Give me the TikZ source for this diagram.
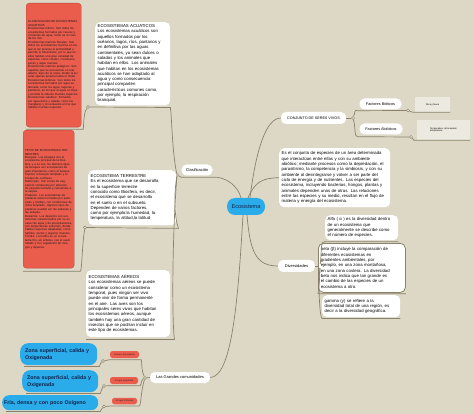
\documentclass[tikz,border=0pt]{standalone}
\usepackage{fontspec}
\setmainfont{Liberation Sans}
\definecolor{bgc}{RGB}{221,216,198}
\definecolor{linec}{RGB}{138,130,108}
\definecolor{redb}{RGB}{234,92,76}
\definecolor{blueb}{RGB}{42,172,234}
\definecolor{navy}{RGB}{16,36,78}
\begin{document}
\begin{tikzpicture}[x=1pt,y=-1pt,
  wbox/.style={fill=white, rounded corners=5pt, inner sep=2.5pt, align=left, anchor=north west, text=black, font=\fontsize{4.3}{5.3}\selectfont},
  lbl/.style={fill=white, rounded corners=5pt, inner sep=0pt, align=center, text=black, font=\fontsize{4}{4.8}\selectfont},
  rbox/.style={fill=redb, draw=redb!80!black, line width=0.3pt, rounded corners=3pt, inner sep=2pt, align=left, anchor=north west, text=black!90, font=\fontsize{2.9}{3.45}\selectfont},
  srbox/.style={fill=redb, rounded corners=2.5pt, inner sep=0pt, text=black!85, font=\fontsize{2.3}{2.6}\selectfont},
  bbox/.style={fill=blueb, rounded corners=8pt, inner sep=2pt, align=left, anchor=north west, text=navy, font=\bfseries\fontsize{5.3}{7}\selectfont},
  fbox/.style={fill=bgc!55!white, inner sep=1pt, align=left, text=black, font=\fontsize{2.3}{2.7}\selectfont},
  conn/.style={draw=linec, line width=0.7pt},
  dot/.style={circle, draw=linec, fill=bgc!40!white, line width=0.5pt, inner sep=0pt, minimum size=3.2pt}]
\fill[bgc] (0,0) rectangle (474,414);
\useasboundingbox (0,0) rectangle (474,414);

% ---------- central ----------
\node[fill=blueb, rounded corners=8pt, minimum width=38pt, minimum height=17pt, inner sep=0pt, text=navy, font=\fontsize{5.6}{6}\selectfont] (eco) at (246,206.5) {Ecosistema};

% ---------- left branch ----------
\node[lbl, minimum width=31pt, minimum height=11pt] (clas) at (197,170) {Clasificación};
\node[dot] (clasdot) at (177,175) {};

\node[wbox, text width=70pt, minimum height=83pt] (acu) at (95,22) {ECOSISTEMAS ACUATICOS\\
Los ecosistemas acuáticos son\\
aquellos formados por los\\
océanos, lagos, ríos, pantanos y\\
en definitiva por las aguas\\
continentales, ya sean dulces o\\
salados y los animales que\\
habitan en ellos. Los animales\\
que habitan en los ecosistemas\\
acuáticos se han adaptado al\\
agua y como consecuencia\\
principal comparten\\
características comunes como,\\
por ejemplo, la respiración\\
branquial.};

\node[wbox, text width=83pt, minimum height=55pt] (ter) at (88,170) {ECOSISTEMA TERRESTRE\\
Es el ecosistema que se desarrolla\\
en la superficie terrestre\\
conocido como Biosfera, es decir,\\
el ecosistema  que se  desarrolla\\
en el suelo o en el subsuelo.\\
Dependen de varios factores,\\
como por ejemplo:la humedad, la\\
temperatura,  la altitud,la latitud};

\node[wbox, text width=79pt, minimum height=67pt] (aer) at (86,270) {ECOSISTEMAS AÉREOS\\
Los ecosistemas aéreos se puede\\
considerar como un ecosistema\\
temporal, pues ningún ser vivo\\
puede vivir de forma permanente\\
en el aire. Las aves son los\\
principales seres vivos que habitan\\
los ecosistemas aéreos, aunque\\
también hay una gran cantidad de\\
insectos que se podrían incluir en\\
este tipo de ecosistemas.};

\node[rbox, text width=51pt, minimum height=124pt] (red1) at (26,3) {CLASIFICACION DE ECOSISTEMAS ACUATICOS\\
Ecosistemas lóticos: Son todos los ecosistemas formados por cauces y corrientes de agua, como es el caso de los ríos.\\
Ecosistemas marinos litorales: Son todos los ecosistemas marinos en los que la luz alcanza la profundidad y permite la fotosíntesis, por lo que en ellos habitan una gran variedad de especies, como corales, crustáceos, peces y algas marinas.\\
Ecosistemas marinos pelágicos: Son aquellos que se encuentran en mar abierto, lejos de la costa, donde la luz solar apenas penetra hasta el fondo.\\
Ecosistemas lénticos: Son todos los ecosistemas formados por agua estancada, como los lagos, lagunas y pantanos, en los que el agua no fluye y permite la vida de muchas especies.\\
Ecosistemas salobres: formados por agua dulce y salada, como los manglares y los estuarios en los que habitan muchas especies.};

\node[rbox, text width=47pt, minimum height=138pt] (red2) at (23,130) {TIPOS DE ECOSISTEMAS TERRESTRES\\
Bosques: Los bosques son el ecosistema principal de la biosfera, y a su vez, los distintos tipos de bosques son ecosistemas de gran importancia, como el bosque tropical, el bosque templado y el bosque de coníferas.\\
Matorrales: Son zonas de vegetación compuesta por arbustos de pequeño tamaño y resistentes a la sequía.\\
Praderas: Los ecosistemas de praderas están formados por pastizales y hierbas, con condiciones de clima templado. Algunos tipos de praderas pueden ser las sabanas y las estepas.\\
Desiertos: Los desiertos son ecosistemas caracterizados por su escasez de agua y de precipitaciones, con temperaturas extremas, donde habitan especies adaptadas, como reptiles, cactus y algunos insectos.\\
Tundra: La tundra es un ecosistema frío, sin árboles, con el suelo helado y con vegetación de musgos y líquenes.};

\node[dot] (acudot) at (88,107) {};
\node[dot] (terdot) at (85,227.5) {};

% ---------- right branch ----------
\node[lbl, minimum width=65pt, minimum height=12pt, font=\fontsize{3.7}{4}\selectfont] (conj) at (313.5,118) {CONJUNTO DE SERES VIVOS};
\node[dot] (conjdot) at (353,118) {};
\node[lbl, minimum width=42pt, minimum height=11pt, font=\fontsize{3.8}{4}\selectfont] (fbio) at (380.5,104) {Factores Bióticos};
\node[lbl, minimum width=43pt, minimum height=11pt, font=\fontsize{3.8}{4}\selectfont] (fabio) at (381,129) {Factores Abióticos};
\node[dot] (fbiodot) at (408,110.5) {};
\node[dot] (fabiodot) at (411,137) {};
\node[fbox, minimum width=35pt, minimum height=15pt] (flora) at (432.5,104.5) {Flora y fauna};
\node[fbox, minimum width=53pt, minimum height=20pt] (temp) at (443.5,130) {Temperatura, la humedad,\\ temperatura};

\node[wbox, text width=106pt, minimum height=59pt] (desc) at (279,148) {Es el conjunto de especies de un área determinada\\
que interactúan entre ellas y  con  su ambiente\\
abiótico; mediante procesos como la depredación, el\\
parasitismo, la competencia y la simbiosis, y con su\\
ambiente al desintegrarse y volver a ser parte del\\
ciclo de energía y de nutrientes. Las especies del\\
ecosistema, incluyendo bacterias, hongos, plantas y\\
animales dependen unas de otras.  Las relaciones\\
entre las especies y su medio, resultan en el flujo de\\
materia y energía del ecosistema.};

\node[lbl, minimum width=37pt, minimum height=12pt] (div) at (296.5,266) {Diversidades};
\node[dot] (divdot) at (320,266) {};

\node[wbox, text width=68pt, minimum height=25pt] (alfa) at (325,215) {Alfa ( α ) es la diversidad dentro\\
de un ecosistema que\\
generalmente  se describe como\\
el número de especies.};
\node[wbox, text width=82pt, minimum height=49pt, draw=linec, line width=0.8pt] (beta) at (318,243) {beta (β) incluye la comparación de\\
diferentes ecosistemas en\\
gradientes ambientales, por\\
ejemplo, en una zona montañosa,\\
en una zona costera. La diversidad\\
beta nos indica que tan grande es\\
el cambio de las especies de un\\
ecosistema a otro.};
\node[wbox, text width=73pt, minimum height=22pt] (gam) at (322,295) {gamma (γ) se refiere a la\\
diversidad total de una región, es\\
decir a la diversidad geográfica.};

% ---------- bottom branch ----------
\node[lbl, minimum width=60pt, minimum height=11pt] (gran) at (180,377.5) {Las Grandes comunidades};
\node[dot] (grandot) at (145,378) {};
\node[srbox, minimum width=29pt, minimum height=7pt] (sr1) at (124.5,354.5) {Océano Ascendente};
\node[srbox, minimum width=28pt, minimum height=7pt] (sr2) at (124,380.5) {1.Capa superficial};
\node[srbox, minimum width=25pt, minimum height=6.5pt] (sr3) at (124.5,401) {3.Capa Profunda};
\node[dot] (sr1dot) at (103,361) {};
\node[dot] (sr2dot) at (104,386) {};
\node[dot] (sr3dot) at (104,406.5) {};
\node[bbox, text width=73pt, minimum height=22pt] (b1) at (20,343) {\hspace*{3pt}Zona superficial, calida y\\ \hspace*{3pt}Oxigenada};
\node[bbox, text width=72pt, minimum height=22pt] (b2) at (22,370) {\hspace*{3pt}Zona superficial, calida y\\ \hspace*{3pt}Oxigenada};
\node[bbox, text width=92pt, minimum height=15pt, rounded corners=7pt] (b3) at (2,395) {Fría, densa y con poco Oxígeno};

% ---------- connectors ----------
\draw[conn] ([xshift=-5pt]eco.north) .. controls (238,186) and (226,176.5) .. ([yshift=-1.5pt]clas.south east) -- ([yshift=-1.5pt]clas.south west) -- (clasdot);
\draw[conn] ([xshift=4pt]eco.north) .. controls (256,150) and (266,118) .. (conj.west);
\draw[conn] ([xshift=2pt]eco.north) .. controls (255,182) and (262,178) .. (desc.west);
\draw[conn] ([xshift=1pt]eco.south) .. controls (250,250) and (255,266) .. (div.west);
\draw[conn] ([xshift=-3pt]eco.south) .. controls (238,300) and (232,377) .. (gran.east);
\draw[conn] (clasdot) .. controls (172,150) and (172,120) .. ([yshift=-2pt]acu.south east) -- (acudot);
\draw[conn] (clasdot) .. controls (174,195) and (174,215) .. ([yshift=-3pt,xshift=2pt]ter.south east) -- (terdot);
\draw[conn] (clasdot) .. controls (172,240) and (172,320) .. ([yshift=-2pt,xshift=4pt]aer.south east) -- ([yshift=-2pt]aer.south west);
\draw[conn] (acudot) .. controls (84,112) and (84,118) .. ([xshift=2pt,yshift=-2pt]red1.south east) -- ([yshift=-2pt]red1.south west);
\draw[conn] (terdot) .. controls (82,245) and (82,271) .. ([xshift=6pt,yshift=-3pt]red2.south east) -- ([yshift=-3pt]red2.south west);
\draw[conn] (conj.east) -- (conjdot);
\draw[conn] (conjdot) .. controls (356,110) and (354,110) .. ([yshift=-1pt,xshift=-2pt]fbio.south west) -- (fbiodot);
\draw[conn] (conjdot) .. controls (356,130) and (354,136) .. ([yshift=-2pt,xshift=-2pt]fabio.south west) -- (fabiodot);
\draw[conn] (fbiodot) .. controls (411,112) and (411,112) .. ([xshift=-2pt]flora.south west) -- (flora.south east);
\draw[conn] (fabiodot) .. controls (414,140) and (414,140) .. ([xshift=-3pt]temp.south west) -- (temp.south east);
\draw[conn] (div.east) -- (divdot);
\draw[conn] (divdot) .. controls (322,250) and (320,241) .. ([yshift=-1pt]alfa.south west) -- ([yshift=-1pt]alfa.south east);
\draw[conn] (divdot) .. controls (320,280) and (318,292) .. ([yshift=-1pt]beta.south west) -- ([yshift=-1pt]beta.south east);
\draw[conn] (divdot) .. controls (318,290) and (320,318) .. ([yshift=-1pt]gam.south west) -- ([yshift=-1pt]gam.south east);
\draw[conn] (gran.west) -- (grandot);
\draw[conn] (grandot) .. controls (141,370) and (142,360) .. ([yshift=-1.5pt,xshift=2pt]sr1.south east) -- ([yshift=-1.5pt]sr1.south west) -- (sr1dot);
\draw[conn] (grandot) .. controls (141,380) and (141,386) .. ([yshift=-1.5pt,xshift=2pt]sr2.south east) -- ([yshift=-1.5pt]sr2.south west) -- (sr2dot);
\draw[conn] (grandot) .. controls (141,390) and (141,406) .. ([yshift=-1.5pt,xshift=2pt]sr3.south east) -- ([yshift=-1.5pt]sr3.south west) -- (sr3dot);
\draw[conn] (sr1dot) .. controls (100,363) and (100,366) .. ([xshift=2pt,yshift=-1pt]b1.south east) -- ([yshift=-1pt,xshift=4pt]b1.south west);
\draw[conn] (sr2dot) .. controls (101,389) and (101,393) .. ([xshift=2pt,yshift=-1pt]b2.south east) -- ([yshift=-1pt,xshift=4pt]b2.south west);
\draw[conn] (sr3dot) .. controls (101,409) and (101,411) .. ([xshift=2pt,yshift=-1pt]b3.south east) -- ([yshift=-1pt,xshift=4pt]b3.south west);
\end{tikzpicture}
\end{document}
